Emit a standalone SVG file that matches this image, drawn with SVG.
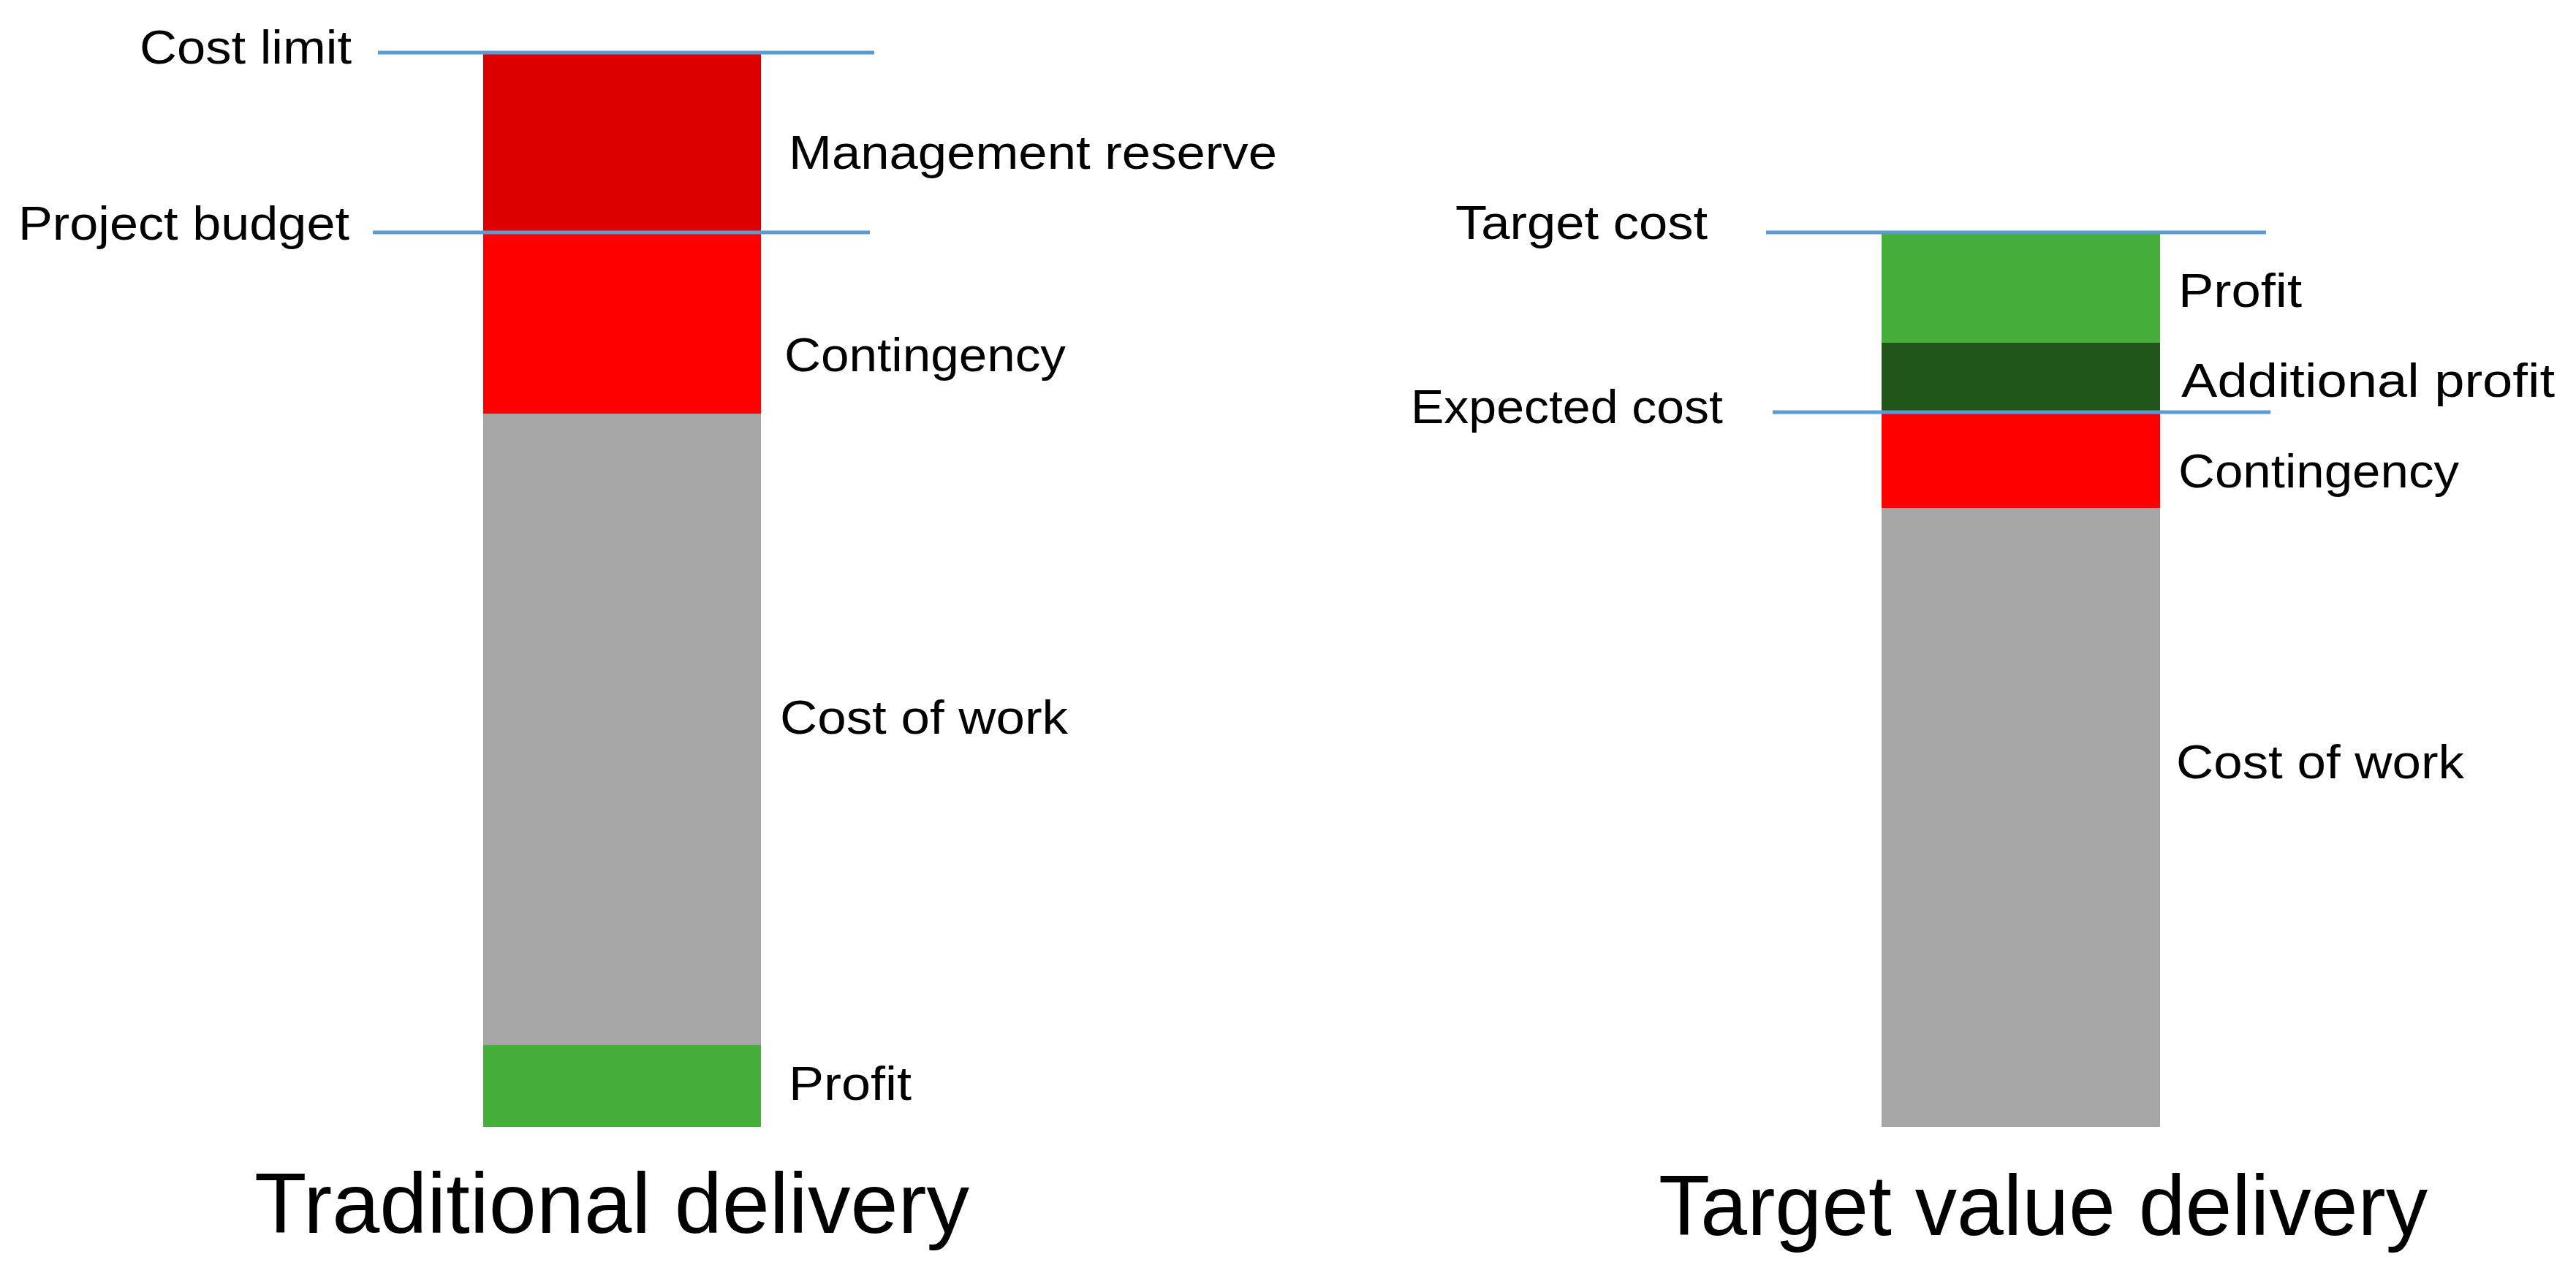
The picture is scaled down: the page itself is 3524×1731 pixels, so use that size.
<svg xmlns="http://www.w3.org/2000/svg" width="3524" height="1731" viewBox="0 0 3524 1731">
<style>
text{font-family:"Liberation Sans",Arial,sans-serif;font-size:64px;fill:#000}
.t{font-size:116px}
.ln{stroke:#5B9BD5;stroke-width:5}
</style>
<rect width="3524" height="1731" fill="#fff"/>
<g id="traditional">
<rect x="661" y="72" width="380" height="246" fill="#DC0000"/>
<rect x="661" y="318" width="380" height="248" fill="#FF0000"/>
<rect x="661" y="566" width="380" height="864" fill="#A6A6A6"/>
<rect x="661" y="1430" width="380" height="112" fill="#46AF3C"/>
<text x="1079" y="231" textLength="668" lengthAdjust="spacingAndGlyphs">Management reserve</text>
<text x="1073" y="508" textLength="385" lengthAdjust="spacingAndGlyphs">Contingency</text>
<text x="1067" y="1004" textLength="394" lengthAdjust="spacingAndGlyphs">Cost of work</text>
<text x="1079" y="1505" textLength="168" lengthAdjust="spacingAndGlyphs">Profit</text>
<text x="191" y="87" textLength="290" lengthAdjust="spacingAndGlyphs">Cost limit</text>
<text x="25" y="328" textLength="453" lengthAdjust="spacingAndGlyphs">Project budget</text>
<text class="t" x="348" y="1687" textLength="978" lengthAdjust="spacingAndGlyphs">Traditional delivery</text>
</g>
<g id="target">
<rect x="2574" y="318" width="381" height="151" fill="#46AF3C"/>
<rect x="2574" y="469" width="381" height="95" fill="#20561A"/>
<rect x="2574" y="564" width="381" height="131" fill="#FF0000"/>
<rect x="2574" y="695" width="381" height="847" fill="#A6A6A6"/>
<text x="2980" y="420" textLength="169" lengthAdjust="spacingAndGlyphs">Profit</text>
<text x="2984" y="543" textLength="511" lengthAdjust="spacingAndGlyphs">Additional profit</text>
<text x="2980" y="667" textLength="384" lengthAdjust="spacingAndGlyphs">Contingency</text>
<text x="2977" y="1065" textLength="394" lengthAdjust="spacingAndGlyphs">Cost of work</text>
<text x="1991" y="327" textLength="345" lengthAdjust="spacingAndGlyphs">Target cost</text>
<text x="1930" y="579" textLength="427" lengthAdjust="spacingAndGlyphs">Expected cost</text>
<text class="t" x="2269" y="1690" textLength="1052" lengthAdjust="spacingAndGlyphs">Target value delivery</text>
</g>
<g id="connectors">
<line class="ln" x1="517" y1="72" x2="1196" y2="72"/>
<line class="ln" x1="510" y1="318" x2="1190" y2="318"/>
<line class="ln" x1="2416" y1="318" x2="3100" y2="318"/>
<line class="ln" x1="2425" y1="564" x2="3106" y2="564"/>
</g>
</svg>
